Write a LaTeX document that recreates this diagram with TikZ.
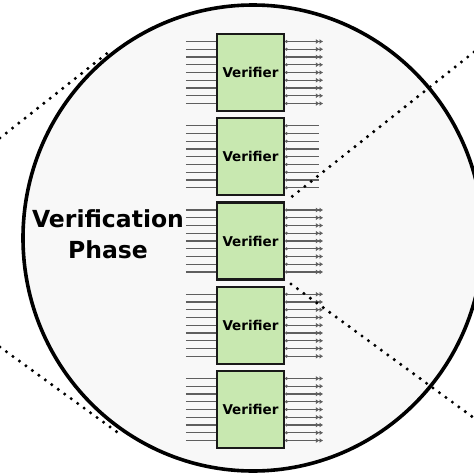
\documentclass[tikz,border=0pt]{standalone}
\usepackage{fontspec}
\setmainfont{DejaVu Sans}
\usetikzlibrary{arrows.meta,calc}
\definecolor{boxgreen}{RGB}{200,232,176}
\definecolor{circfill}{RGB}{248,248,248}
\definecolor{wire}{RGB}{95,95,95}
\begin{document}
\begin{tikzpicture}[x=1pt,y=-1pt,
  verifier/.style={draw=black!90, line width=2.2pt, fill=boxgreen, minimum width=67pt, minimum height=77pt, inner sep=0pt, font=\bfseries\fontsize{13.5}{15}\selectfont},
  inwire/.style={draw=wire, line width=1.4pt},
  outwire/.style={draw=wire, line width=1.4pt, {Circle[length=2.8pt]}-{Latex[length=3.6pt,width=5pt] Latex[length=3.6pt,width=5pt]}},
  plainwire/.style={draw=wire, line width=1.4pt, {Circle[length=2.8pt]}-},
  dotline/.style={line width=3.4pt, line cap=round, dash pattern=on 0pt off 8pt}]
\useasboundingbox (0,0) rectangle (474,474);
\clip (0,0) rectangle (474,474);
\draw[line width=3.6pt, fill=circfill] (253,238) ellipse [x radius=230, y radius=233];
\foreach \i in {1,...,5} {
  \pgfmathsetmacro\cy{72.5+84.25*(\i-1)}
  \node[verifier] (v\i) at (250.5,\cy) {Verifier};
}
\foreach \i in {1,...,5} {
  \foreach \k in {0,...,8} {
    \pgfmathsetmacro\dy{-31+7.75*\k}
    \coordinate (in\i-\k) at ($(v\i.west)+(-30,\dy)$);
    \draw[inwire] (in\i-\k) -- (in\i-\k -| v\i.west);
  }
}
\foreach \i in {1,3,4,5} {
  \foreach \k in {0,...,8} {
    \pgfmathsetmacro\dy{-31+7.75*\k}
    \coordinate (out\i-\k) at ($(v\i.east)+(38,\dy)$);
    \draw[outwire] (out\i-\k -| v\i.east) -- (out\i-\k);
  }
}
\foreach \k in {0,...,8} {
  \pgfmathsetmacro\dy{-31+7.75*\k}
  \coordinate (out2-\k) at ($(v2.east)+(34,\dy)$);
  \draw[plainwire] (out2-\k -| v2.east) -- (out2-\k);
}
\node[font=\bfseries\fontsize{23.5}{31}\selectfont, align=center] (title) at (108,234) {Verification\\Phase};
\coordinate (ula) at (0,138); \coordinate (ulb) at (110,51);
\coordinate (ura) at (474,52); \coordinate (urb) at (289,199);
\coordinate (lra) at (291,284); \coordinate (lrb) at (474,418);
\coordinate (lla) at (0,347); \coordinate (llb) at (117,432);
\draw[dotline] (ula) -- (ulb);
\draw[dotline] (ura) -- (urb);
\draw[dotline] (lra) -- (lrb);
\draw[dotline] (lla) -- (llb);
\end{tikzpicture}
\end{document}
